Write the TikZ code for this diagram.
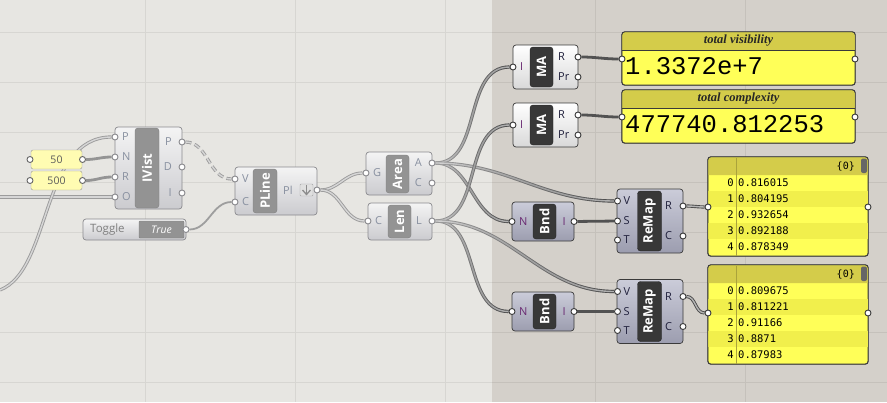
\documentclass[tikz,border=0pt]{standalone}
\usepackage{fontspec}
\setmainfont{Open Sans}
\newfontfamily\valfont{Liberation Mono}
\newfontfamily\listfont{DejaVu Sans Mono}
\newfontfamily\headfont{Liberation Serif}
\usetikzlibrary{fadings}

\definecolor{bgleft}{HTML}{E7E6E2}
\definecolor{bgright}{HTML}{D4D0CA}
\definecolor{gridleft}{HTML}{D7D6D2}
\definecolor{gridright}{HTML}{C5C1BB}
\definecolor{lighttop}{HTML}{F4F4F4}
\definecolor{lightbot}{HTML}{CBCBCF}
\definecolor{lightedge}{HTML}{8A8A8E}
\definecolor{lightbarfill}{HTML}{939393}
\definecolor{lightporttext}{HTML}{8890A0}
\definecolor{bluetop}{HTML}{CBCCD9}
\definecolor{bluebot}{HTML}{9C9DAF}
\definecolor{darkedge}{HTML}{3A3A3A}
\definecolor{darkbarfill}{HTML}{383838}
\definecolor{purpletext}{HTML}{6A2A72}
\definecolor{navytext}{HTML}{20203C}
\definecolor{slideryellow}{HTML}{FFFCB2}
\definecolor{panelyellow}{HTML}{FFFF58}
\definecolor{panelhead}{HTML}{D4CC4A}
\definecolor{panelstripe}{HTML}{F1EF4C}
\definecolor{wireedge}{HTML}{9C9C9C}
\definecolor{wirefill}{HTML}{D6D6D6}
\definecolor{wiredarkedge}{HTML}{4A4A4A}
\definecolor{wiredarkfill}{HTML}{B4B4B4}

\newcommand\portfont{\fontsize{11}{12}\selectfont}
\newcommand\barfont{\bfseries\fontsize{13}{14}\selectfont}

\pgfdeclarelayer{canvas}
\pgfdeclarelayer{wires}
\pgfsetlayers{canvas,wires,main}

\begin{document}
\begin{tikzpicture}[x=1pt,y=-1pt,
  lightcomp/.style={draw=lightedge,rounded corners=3pt,top color=lighttop,bottom color=lightbot,line width=0.7pt,inner sep=0pt},
  macomp/.style={draw=darkedge,rounded corners=3pt,top color=white,bottom color=black!15,line width=0.7pt,inner sep=0pt},
  bluecomp/.style={draw=darkedge,rounded corners=3pt,top color=bluetop,bottom color=bluebot,line width=0.7pt,inner sep=0pt},
  lightbar/.style={draw=black!50,fill=lightbarfill,rounded corners=3pt,text=white,font=\barfont,inner sep=0pt},
  darkbar/.style={draw=black!85,fill=darkbarfill,rounded corners=3pt,text=white,font=\barfont,inner sep=0pt},
  lightport/.style={text=lightporttext,font=\portfont,inner sep=0pt},
  darkport/.style={text=navytext,font=\portfont,inner sep=0pt},
  purpleport/.style={text=purpletext,font=\portfont,inner sep=0pt},
  grip/.style={circle,draw=#1,fill=white,line width=0.9pt,inner sep=0pt,minimum size=6pt},
  grip/.default=darkedge,
  slider/.style={draw=black!40,fill=slideryellow,rounded corners=2pt,text=black!65,font=\fontsize{10.5}{11}\selectfont,inner sep=0pt},
  panel/.style={draw=darkedge,fill=panelyellow,rounded corners=3pt,line width=0.7pt,inner sep=0pt},
  wire/.style={draw=wireedge,line width=0.9pt,double=wirefill,double distance=1.4pt},
  wiredark/.style={draw=wiredarkedge,line width=0.9pt,double=wiredarkfill,double distance=1.4pt},
  wirethick/.style={draw=black!42,line width=2.8pt},
  wiresolid/.style={draw=black!68,line width=2.8pt},
  wiresingle/.style={draw=black!38,line width=1.8pt}
]
\useasboundingbox (0,0) rectangle (887,402);

% canvas and grid
\begin{pgfonlayer}{canvas}
\fill[bgleft] (0,0) rectangle (492,402);
\fill[bgright] (492,0) rectangle (887,402);
\foreach \gy in {32,82,...,382} {
  \draw[gridleft,line width=0.8pt] (0,\gy) -- (492,\gy);
  \draw[gridright,line width=0.8pt] (492,\gy) -- (887,\gy);
}
\foreach \gx in {145,295,445} \draw[gridleft,line width=0.8pt] (\gx,0) -- (\gx,402);
\foreach \gx in {595,745} \draw[gridright,line width=0.8pt] (\gx,0) -- (\gx,402);
\end{pgfonlayer}

% number sliders
\node[slider,minimum width=51pt,minimum height=19pt] (s50) at (56.5,159.5) {50};
\node[slider,minimum width=51pt,minimum height=19pt] (s500) at (56.5,180.5) {500};
\node[grip=black!60] (s50-in) at (30,159.5) {};
\node[grip=black!60] (s50-out) at (82.5,159.5) {};
\node[grip=black!60] (s500-in) at (30,180.5) {};
\node[grip=black!60] (s500-out) at (82.5,180.5) {};

% IVist
\node[lightcomp,minimum width=67pt,minimum height=82pt] (ivist) at (148.5,168) {};
\node[lightbar,rotate=90,minimum width=80pt,minimum height=24pt] (ivist-bar) at (147,168) {IVist};
\foreach \p/\y in {P/137,N/157,R/177,O/197} {
  \node[grip=lightedge] (ivist-i\p) at (115,\y) {};
  \node[lightport,anchor=west] at (122,\y) {\p};
}
\foreach \p/\y in {P/142,D/167,I/193} {
  \node[grip=lightedge] (ivist-o\p) at (182,\y) {};
  \node[lightport,anchor=east] at (172,\y) {\p};
}

% boolean toggle
\node[lightcomp,minimum width=103pt,minimum height=21pt] (toggle) at (134.5,229.5) {};
\node[lightport,anchor=west,text=black!50,font=\fontsize{11.5}{12}\selectfont] (toggle-lbl) at (90,229.5) {Toggle};
\node[lightbar,rounded corners=1pt,font=\itshape\fontsize{10.5}{11}\selectfont,minimum width=45pt,minimum height=17pt] (toggle-val) at (161.5,229.5) {True};
\node[grip=lightedge] (toggle-out) at (186,229.5) {};

% PLine
\node[lightcomp,minimum width=82pt,minimum height=48pt] (pline) at (276,191) {};
\node[lightbar,rotate=90,minimum width=44pt,minimum height=24pt] (pline-bar) at (265,191) {PLine};
\foreach \p/\y in {V/179,C/202} {
  \node[grip=lightedge] (pline-i\p) at (235,\y) {};
  \node[lightport,anchor=west] at (242,\y) {\p};
}
\node[grip=lightedge] (pline-oPl) at (317,190) {};
\node[lightport,anchor=west] at (283,190) {Pl};
\node[draw=black!35,fill=black!12,rounded corners=1pt,minimum width=13pt,minimum height=12pt,inner sep=0pt] (pline-icon) at (306.5,190) {};
\draw[black!45,line width=1.3pt] (306.5,185) -- (306.5,194.5);
\draw[black!45,line width=1.3pt] (302.5,190) -- (306.5,194.5) -- (310.5,190);

% Area
\node[lightcomp,minimum width=66pt,minimum height=43pt] (area) at (399,173.5) {};
\node[lightbar,rotate=90,minimum width=38pt,minimum height=23pt] (area-bar) at (397.5,174) {Area};
\node[grip=lightedge] (area-iG) at (366,173) {};
\node[lightport,anchor=west] at (373,173) {G};
\foreach \p/\y in {A/163,C/183} {
  \node[grip=lightedge] (area-o\p) at (432,\y) {};
  \node[lightport,anchor=east] at (422,\y) {\p};
}

% Len
\node[lightcomp,minimum width=64pt,minimum height=37pt] (len) at (400,221.5) {};
\node[lightbar,rotate=90,minimum width=33pt,minimum height=23pt] (len-bar) at (399.5,221.5) {Len};
\node[grip=lightedge] (len-iC) at (368,221) {};
\node[lightport,anchor=west] at (375,221) {C};
\node[grip=lightedge] (len-oL) at (432,221) {};
\node[lightport,anchor=east] at (422,221) {L};

% mass addition
\foreach \m/\cy in {ma1/67,ma2/125} {
  \node[macomp,minimum width=65pt,minimum height=44pt] (\m) at (545.5,\cy) {};
  \node[darkbar,rotate=90,minimum width=40pt,minimum height=23pt] (\m-bar) at (541.5,\cy) {MA};
  \node[grip] (\m-iI) at (513,\cy) {};
  \node[purpleport,anchor=west] at (520,\cy) {I};
  \node[grip] (\m-oR) at (578,\cy-10) {};
  \node[darkport,anchor=west] at (558,\cy-10) {R};
  \node[grip] (\m-oPr) at (578,\cy+10) {};
  \node[darkport,anchor=west] at (558,\cy+10) {Pr};
}

% result panels
\foreach \pn/\ty/\title/\val in {vis/32/total visibility/1.3372e+7,cpx/90/total complexity/477740.812253} {
  \node[panel,minimum width=233pt,minimum height=53pt] (\pn) at (738.5,\ty+26.5) {};
  \fill[panelhead] (622.35,\ty+18) [rounded corners=3pt] -- (622.35,\ty+0.35) -- (854.65,\ty+0.35) [sharp corners] -- (854.65,\ty+18) -- cycle;
  \draw[darkedge,line width=1pt] (622,\ty+18) -- (855,\ty+18);
  \draw[darkedge,line width=0.7pt,rounded corners=3pt] (\pn.north west) rectangle (\pn.south east);
  \node[font=\headfont\bfseries\itshape\fontsize{12.5}{13}\selectfont,text=black!85] (\pn-title) at (738.5,\ty+9) {\title};
  \node[anchor=west,font=\valfont\fontsize{25.5}{26}\selectfont,inner sep=0pt] (\pn-val) at (625,\ty+34) {\val};
  \node[grip] (\pn-in) at (622,\ty+27) {};
  \node[grip] (\pn-out) at (855,\ty+27) {};
}

% bounds
\foreach \b/\cy in {bnd1/221.5,bnd2/311.5} {
  \node[bluecomp,minimum width=62pt,minimum height=39pt] (\b) at (543,\cy) {};
  \node[darkbar,rotate=90,minimum width=35pt,minimum height=23pt] (\b-bar) at (544.5,\cy) {Bnd};
  \node[grip] (\b-iN) at (512,\cy) {};
  \node[purpleport,anchor=west] at (519,\cy) {N};
  \node[grip] (\b-oI) at (574,\cy) {};
  \node[purpleport,anchor=east] at (566,\cy) {I};
}

% remap numbers
\foreach \r/\cy in {remap1/221,remap2/311.5} {
  \node[bluecomp,minimum width=66pt,minimum height=64pt] (\r) at (650,\cy) {};
  \node[darkbar,rotate=90,minimum width=60pt,minimum height=24pt] (\r-bar) at (649.5,\cy) {ReMap};
  \foreach \p/\dy in {V/-20,S/0,T/19} {
    \node[grip] (\r-i\p) at (617.5,\cy+\dy) {};
    \node[darkport,anchor=west] at (623.5,\cy+\dy) {\p};
  }
  \node[grip] (\r-oR) at (683,\cy-15) {};
  \node[darkport,anchor=west] at (665,\cy-15) {R};
  \node[grip] (\r-oC) at (683,\cy+15) {};
  \node[darkport,anchor=west] at (665,\cy+15) {C};
}

% list panels
\foreach \l/\ty/\gy/\vals in {list1/157/207/{0.816015,0.804195,0.932654,0.892188,0.878349},
                              list2/265/313/{0.809675,0.811221,0.91166,0.8871,0.87983}} {
  \node[panel,minimum width=160pt,minimum height=99pt] (\l) at (788,\ty+49.5) {};
  \fill[panelhead] (708.35,\ty+18) [rounded corners=3pt] -- (708.35,\ty+0.35) -- (867.65,\ty+0.35) [sharp corners] -- (867.65,\ty+18) -- cycle;
  \fill[panelstripe] (708.35,\ty+34) rectangle (867.65,\ty+50);
  \fill[panelstripe] (708.35,\ty+66) rectangle (867.65,\ty+82);
  \draw[panelhead!80!black,line width=0.5pt] (736,\ty+0.5) -- (736,\ty+98.5);
  \draw[darkedge,line width=0.7pt,rounded corners=3pt] (\l.north west) rectangle (\l.south east);
  \node[anchor=east,font=\listfont\fontsize{10}{11}\selectfont,inner sep=0pt] (\l-path) at (855,\ty+10) {\{0\}};
  \fill[black!60,rounded corners=2pt] (861,\ty+1.5) rectangle (867,\ty+16);
  \foreach \v [count=\i from 0] in \vals {
    \node[anchor=east,font=\listfont\fontsize{10.5}{11}\selectfont,inner sep=0pt] at (734,\ty+26+16*\i) {\i};
    \node[anchor=west,font=\listfont\fontsize{10.5}{11}\selectfont,inner sep=0pt] at (738,\ty+26+16*\i) {\v};
  }
  \node[grip] (\l-in) at (708,\gy) {};
  \node[grip] (\l-out) at (868,\gy) {};
}

% wires
\coordinate (offO) at (0,197);
\coordinate (offP) at (0,290);
\begin{pgfonlayer}{wires}
\draw[wire] (offO) -- (ivist-iO);
\draw[wire] (offP) .. controls (52,270) and (40,137) .. (ivist-iP);
\draw[wirethick] (s50-out) to[out=0,in=180] (ivist-iN);
\draw[wirethick] (s500-out) to[out=0,in=180] (ivist-iR);
\draw[wire,dash pattern=on 6pt off 3.5pt] (ivist-oP) to[out=0,in=180] (pline-iV);
\draw[wiresingle] (toggle-out) to[out=0,in=180] (pline-iC);
\draw[wire] (pline-oPl) to[out=0,in=180] (area-iG);
\draw[wire] (pline-oPl) to[out=0,in=180] (len-iC);
\foreach \a/\b in {area-oA/ma1-iI,area-oA/bnd1-iN,area-oA/remap1-iV,len-oL/ma2-iI,len-oL/bnd2-iN,len-oL/remap2-iV} {
  \draw[wire] (\a) to[out=0,in=180] (\b);
  \draw[wiredark,path fading=west] (\a) to[out=0,in=180] (\b);
}
\draw[wiresolid] (ma1-oR) to[out=0,in=180] (vis-in);
\draw[wiresolid] (ma2-oR) to[out=0,in=180] (cpx-in);
\draw[wiresolid] (bnd1-oI) -- (remap1-iS);
\draw[wiresolid] (bnd2-oI) -- (remap2-iS);
\draw[wiredark] (remap1-oR) to[out=0,in=180] (list1-in);
\draw[wiredark] (remap2-oR) to[out=0,in=180] (list2-in);
\end{pgfonlayer}
\end{tikzpicture}
\end{document}
